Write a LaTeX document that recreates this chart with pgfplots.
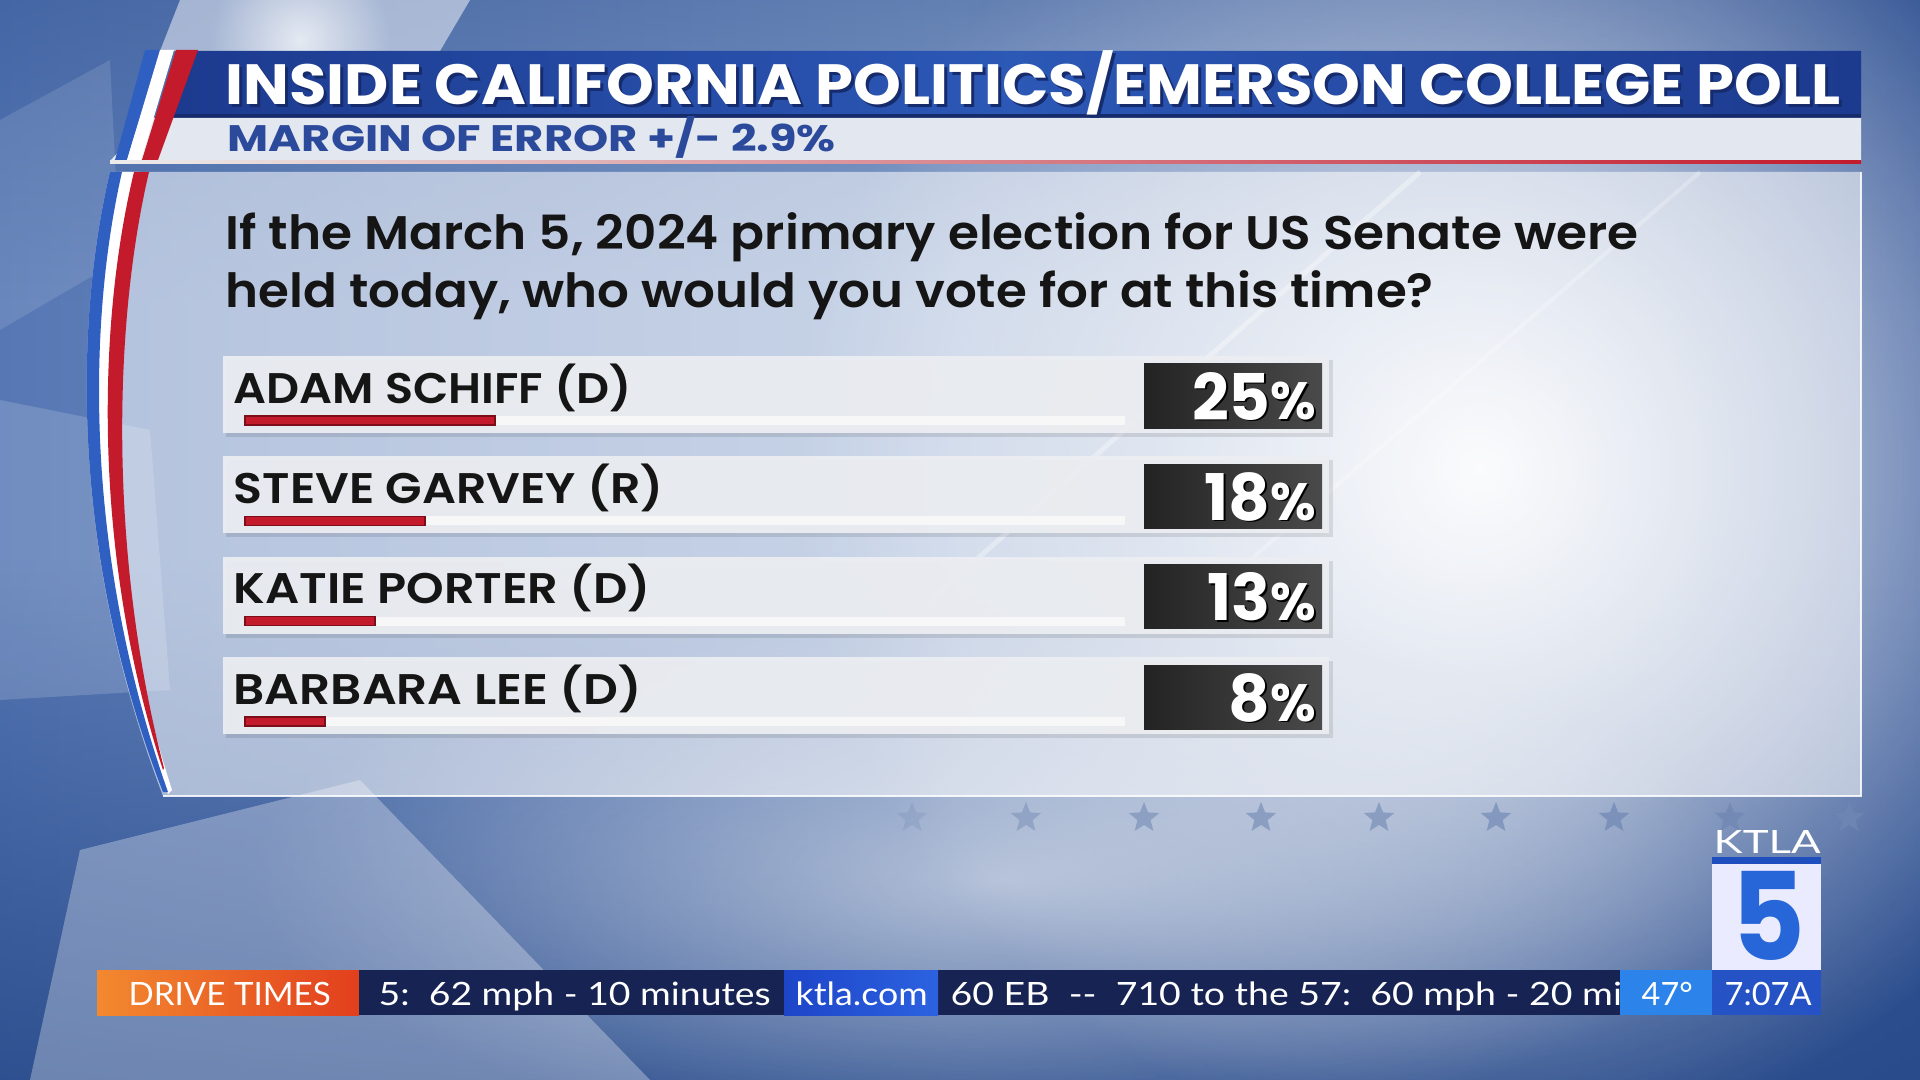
\documentclass[border=0pt]{standalone}
\usepackage{fontspec}
\usepackage{pgfplots}
\pgfplotsset{compat=1.18}
\usepackage{graphicx}
\usetikzlibrary{fadings,shapes.geometric}
\setmainfont{Poppins}
\newfontfamily\popsb{Poppins SemiBold}
\newfontfamily\popb{Poppins Bold}
\newfontfamily\lato{Lato}

\tikzfading[name=glow, inner color=transparent!0, outer color=transparent!100]

% fit text: width #1, cap height #2
\newcommand\fit[3]{\resizebox{#1}{#2}{\smash{#3}\rule{0pt}{\fontcharht\font`H}}}
\newcommand\pct[2]{\resizebox{!}{0.48cm}{\smash{#1}\rule{0pt}{\fontcharht\font`2}}\resizebox{!}{0.37cm}{\smash{\%}\rule{0pt}{\fontcharht\font`\%}}}

\definecolor{bgL}{HTML}{5677B4}
\definecolor{bgM}{HTML}{86A0CB}
\definecolor{bgR}{HTML}{3A5B9B}
\definecolor{bgD}{HTML}{254787}
\definecolor{titleA}{HTML}{1C3A8E}
\definecolor{titleB}{HTML}{2C58B6}
\definecolor{titleD}{HTML}{162B6C}
\definecolor{subband}{HTML}{E3E7EF}
\definecolor{subtext}{HTML}{2C4A9C}
\definecolor{tvred}{HTML}{C31A2C}
\definecolor{darkred}{HTML}{7D0D18}
\definecolor{stripeblue}{HTML}{2F5FC0}
\definecolor{rowc}{HTML}{ECEEF2}
\definecolor{trackc}{HTML}{F7F7F8}
\definecolor{boxA}{HTML}{232323}
\definecolor{boxB}{HTML}{4A4A4A}
\definecolor{starc}{HTML}{6F87B3}
\definecolor{navy}{HTML}{172352}
\definecolor{orA}{HTML}{F3892F}
\definecolor{orB}{HTML}{E23F1D}
\definecolor{ktA}{HTML}{1D45C8}
\definecolor{ktB}{HTML}{2C62E0}
\definecolor{tfs}{HTML}{2C83EA}
\definecolor{tsv}{HTML}{2553C6}
\definecolor{logoblue}{HTML}{1F4FBF}
\definecolor{fivecol}{HTML}{2766D9}
\definecolor{txt}{HTML}{151515}

\begin{document}
\begin{tikzpicture}
\begin{axis}[at={(0,0)}, anchor=south west, width=19.2cm, height=10.8cm,
  scale only axis, xmin=0, xmax=1920, ymin=0, ymax=1080, y dir=reverse,
  axis lines=none, ticks=none, clip=false]

% ---------- background ----------
\shade[left color=bgL, right color=bgR, middle color=bgM] (0,0) rectangle (1920,1080);
\fill[bgD, path fading=north, opacity=0.8] (0,560) rectangle (1920,1080);
\fill[bgD, path fading=south, opacity=0.35] (0,0) rectangle (1920,300);
\fill[white, path fading=glow, opacity=0.95, overlay] (1480,470) circle [radius=6.8cm];
\fill[white, path fading=glow, opacity=0.55, overlay] (1000,880) ellipse [x radius=7.5cm, y radius=2.6cm];
\fill[white, opacity=0.16] (0,400) -- (150,430) -- (170,690) -- (0,700) -- cycle;
\fill[white, opacity=0.30] (80,850) -- (360,780) -- (650,1080) -- (30,1080) -- cycle;
\fill[white, opacity=0.12] (0,120) -- (110,60) -- (120,260) -- (0,330) -- cycle;

% ---------- panel ----------
\fill[white, opacity=0.55] (110,172) .. controls (73,330) and (73,560) .. (163,796) -- (1861,796) -- (1861,172) -- cycle;
\draw[white, opacity=0.85, line width=0.02cm] (163,796) -- (1861,796) -- (1861,172);
\draw[white, opacity=0.35, line width=0.05cm] (1420,172) -- (930,600);
\draw[white, opacity=0.25, line width=0.04cm] (1700,172) -- (1250,560);

% ---------- title bar ----------
\fill[white, path fading=glow, opacity=0.7, overlay] (300,40) circle [radius=0.9cm];
\fill[white, opacity=0.5] (180,0) -- (470,0) -- (440,51) -- (160,51) -- cycle;
\shade[left color=titleA, right color=titleA, middle color=titleB] (185,51) -- (1861,51) -- (1861,117) -- (165,117) -- cycle;
\fill[titleD] (165,114) rectangle (1861,118);
\fill[subband] (150,118) -- (1861,118) -- (1861,161) -- (110,161) -- cycle;
\shade[left color=white!85!gray, right color=tvred] (110,161) rectangle (1861,164);
\node[anchor=base west, inner sep=0, text=titleD] at (228,108) {\popb\fit{16.15cm}{0.40cm}{INSIDE CALIFORNIA POLITICS/EMERSON COLLEGE POLL}};
\node[anchor=base west, inner sep=0, text=white] at (225,105) {\popb\fit{16.15cm}{0.40cm}{INSIDE CALIFORNIA POLITICS/EMERSON COLLEGE POLL}};
\node[anchor=base west, inner sep=0, text=subtext] at (227,152) {\popb\fit{6.08cm}{0.26cm}{MARGIN OF ERROR +/- 2.9\%}};

% top stripes
\fill[stripeblue] (145,50) -- (160,50) -- (127,160) -- (115,160) -- cycle;
\fill[white] (160,50) -- (174,50) -- (141,160) -- (127,160) -- cycle;
\fill[tvred] (176,50) -- (198,50) -- (158,160) -- (142,160) -- cycle;

% panel arcs
\fill[white] (120,172) .. controls (84,330) and (84,560) .. (168,794) -- (172,790) .. controls (98,560) and (100,330) .. (140,172) -- cycle;
\fill[stripeblue] (110,172) .. controls (73,330) and (73,560) .. (163,792) -- (168,792) .. controls (86,560) and (86,330) .. (122,172) -- cycle;
\fill[tvred] (134,172) .. controls (96,330) and (94,560) .. (163,770) -- (164,768) .. controls (110,560) and (112,330) .. (149,172) -- cycle;

% ---------- question ----------
\node[anchor=base west, inner sep=0, text=txt] at (225,250) {\popsb\fit{14.13cm}{0.33cm}{If the March 5, 2024 primary election for US Senate were}};
\node[anchor=base west, inner sep=0, text=txt] at (225,307) {\popsb\fit{12.08cm}{0.33cm}{held today, who would you vote for at this time?}};

% ---------- rows ----------
% row 0
\fill[black, opacity=0.10] (226,360) rectangle (1333,437);
\fill[rowc, opacity=0.93] (223,356) rectangle (1329,433);
\fill[trackc] (245,416) rectangle (1125,425);
\shade[left color=boxA, right color=boxB] (1144,364) rectangle (1322,428);
\node[anchor=base west, inner sep=0, text=txt] at (233,403) {\popsb\fit{3.98cm}{0.30cm}{ADAM SCHIFF (D)}};
\node[anchor=base east, inner sep=0, text=black] at (1319,421.5) {\popb\pct{25}{}};
\node[anchor=base east, inner sep=0, text=white] at (1317,420) {\popb\pct{25}{}};
% row 1
\fill[black, opacity=0.10] (226,460.3) rectangle (1333,537.3);
\fill[rowc, opacity=0.93] (223,456.3) rectangle (1329,533.3);
\fill[trackc] (245,516.3) rectangle (1125,525.3);
\shade[left color=boxA, right color=boxB] (1144,464.3) rectangle (1322,528.3);
\node[anchor=base west, inner sep=0, text=txt] at (233,503.3) {\popsb\fit{4.30cm}{0.30cm}{STEVE GARVEY (R)}};
\node[anchor=base east, inner sep=0, text=black] at (1319,521.8) {\popb\pct{18}{}};
\node[anchor=base east, inner sep=0, text=white] at (1317,520.3) {\popb\pct{18}{}};
% row 2
\fill[black, opacity=0.10] (226,560.7) rectangle (1333,637.7);
\fill[rowc, opacity=0.93] (223,556.7) rectangle (1329,633.7);
\fill[trackc] (245,616.7) rectangle (1125,625.7);
\shade[left color=boxA, right color=boxB] (1144,564.7) rectangle (1322,628.7);
\node[anchor=base west, inner sep=0, text=txt] at (233,603.7) {\popsb\fit{4.17cm}{0.30cm}{KATIE PORTER (D)}};
\node[anchor=base east, inner sep=0, text=black] at (1319,622.2) {\popb\pct{13}{}};
\node[anchor=base east, inner sep=0, text=white] at (1317,620.7) {\popb\pct{13}{}};
% row 3
\fill[black, opacity=0.10] (226,661) rectangle (1333,738);
\fill[rowc, opacity=0.93] (223,657) rectangle (1329,734);
\fill[trackc] (245,717) rectangle (1125,726);
\shade[left color=boxA, right color=boxB] (1144,665) rectangle (1322,729);
\node[anchor=base west, inner sep=0, text=txt] at (233,704) {\popsb\fit{4.08cm}{0.30cm}{BARBARA LEE (D)}};
\node[anchor=base east, inner sep=0, text=black] at (1319,722.5) {\popb\pct{8}{}};
\node[anchor=base east, inner sep=0, text=white] at (1317,721) {\popb\pct{8}{}};

% ---------- stars ----------
\node[star, star points=5, star point ratio=2.3, fill=starc, opacity=0.25, inner sep=0, minimum size=0.32cm] at (912,818) {};
\node[star, star points=5, star point ratio=2.3, fill=starc, opacity=0.45, inner sep=0, minimum size=0.32cm] at (1026,818) {};
\node[star, star points=5, star point ratio=2.3, fill=starc, opacity=0.55, inner sep=0, minimum size=0.32cm] at (1144,818) {};
\node[star, star points=5, star point ratio=2.3, fill=starc, opacity=0.6, inner sep=0, minimum size=0.32cm] at (1261,818) {};
\node[star, star points=5, star point ratio=2.3, fill=starc, opacity=0.6, inner sep=0, minimum size=0.32cm] at (1379,818) {};
\node[star, star points=5, star point ratio=2.3, fill=starc, opacity=0.65, inner sep=0, minimum size=0.32cm] at (1496,818) {};
\node[star, star points=5, star point ratio=2.3, fill=starc, opacity=0.7, inner sep=0, minimum size=0.32cm] at (1614,818) {};
\node[star, star points=5, star point ratio=2.3, fill=starc, opacity=0.75, inner sep=0, minimum size=0.32cm] at (1730,818) {};
\node[star, star points=5, star point ratio=2.3, fill=starc, opacity=0.8, inner sep=0, minimum size=0.32cm] at (1849,818) {};

% ---------- logo ----------
\fill[white!92!blue] (1712,864) rectangle (1821,970);
\fill[logoblue] (1712,857) rectangle (1821,864);
\node[anchor=base west, inner sep=0, text=white] at (1713,853) {\lato\fit{1.07cm}{0.23cm}{KTLA}};
\node[anchor=base west, inner sep=0, text=fivecol] at (1731,960) {\popb\fit{0.74cm}{0.86cm}{5}};

% ---------- ticker ----------
\shade[left color=orA, right color=orB] (97,970) rectangle (359,1015);
\fill[navy] (359,970) rectangle (1620,1015);
\shade[left color=ktA, right color=ktB] (784,970) rectangle (938,1015);
\node[anchor=base west, inner sep=0, text=white] at (128,1005) {\lato\fit{2.02cm}{0.23cm}{DRIVE TIMES}};
\node[anchor=base west, inner sep=0, text=white] at (378,1005) {\lato\fit{3.92cm}{0.23cm}{5:\ \ 62 mph - 10 minutes}};
\node[anchor=base west, inner sep=0, text=white] at (795,1005) {\lato\fit{1.32cm}{0.23cm}{ktla.com}};
\node[anchor=base west, inner sep=0, text=white] at (950,1005) {\lato\fit{6.92cm}{0.23cm}{60 EB\ \ -{}-\ \ 710 to the 57:\ \ 60 mph - 20 min}};
\fill[tfs] (1620,970) rectangle (1712,1015);
\fill[tsv] (1712,970) rectangle (1821,1015);
\node[anchor=base west, inner sep=0, text=white] at (1641,1005) {\lato\fit{0.51cm}{0.23cm}{47°}};
\node[anchor=base west, inner sep=0, text=white] at (1724,1005) {\lato\fit{0.87cm}{0.23cm}{7:07A}};
\end{axis}

% ---------- bars (data) ----------
\begin{axis}[at={(2.45cm,3.0833cm)}, anchor=south west, width=8.8cm, height=4.0133cm,
  scale only axis, xmin=0, xmax=88, ymin=-0.5, ymax=3.5, y dir=reverse,
  axis lines=none, ticks=none, clip=false, xbar, bar width=0.09cm]
\addplot[fill=tvred, draw=darkred, line width=0.4pt] coordinates {(25,0) (18,1) (13,2) (8,3)};
\end{axis}
\end{tikzpicture}
\end{document}
